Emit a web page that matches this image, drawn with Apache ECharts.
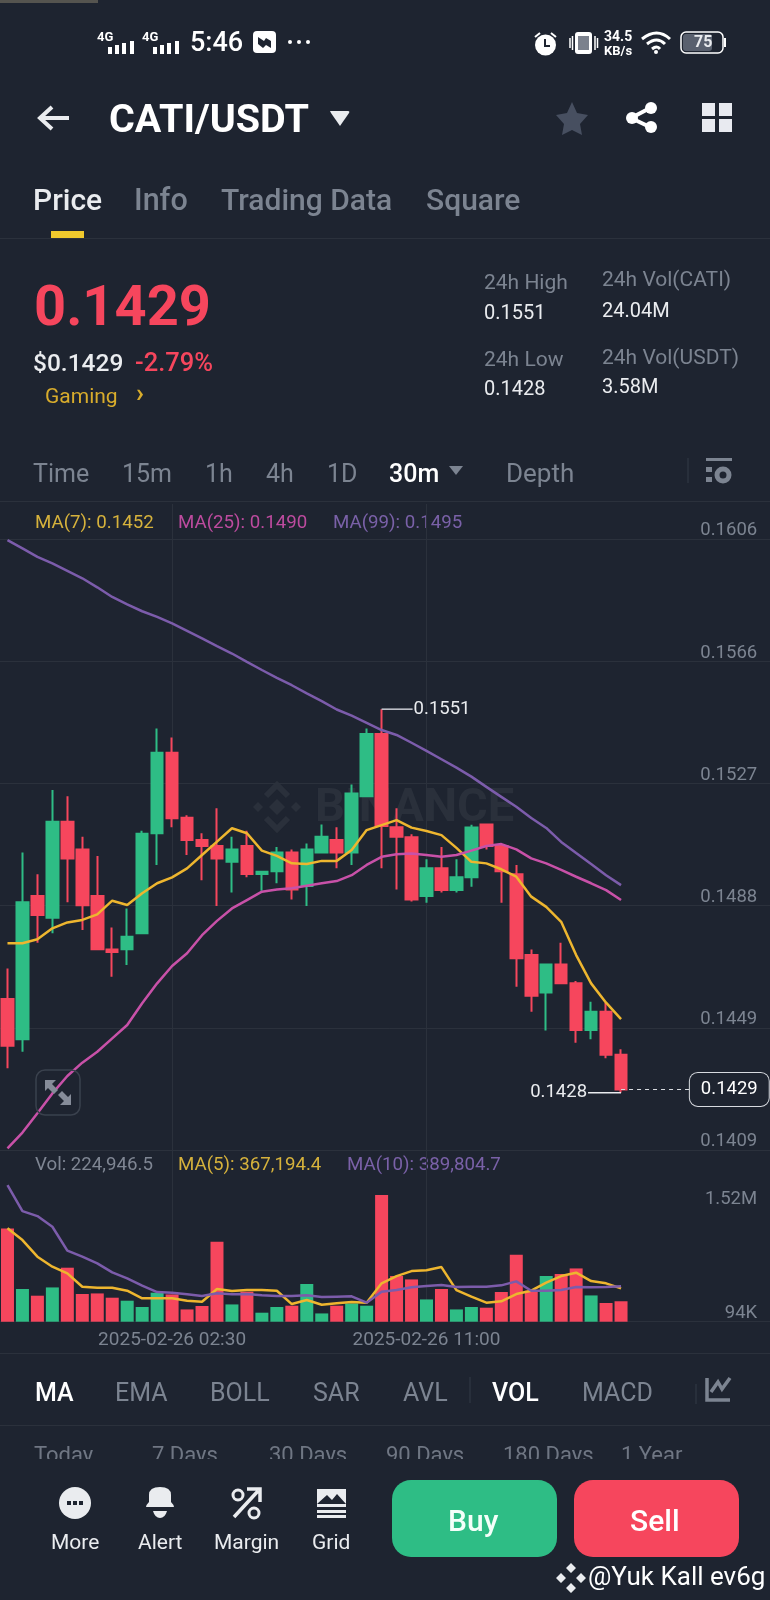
<!DOCTYPE html>
<html>
<head>
<meta charset="utf-8">
<script src="https://cdn.jsdelivr.net/npm/echarts@6/dist/echarts.min.js"></script>
<style>
  html, body { margin: 0; padding: 0; background: #1e2430; }
  #page { position: relative; width: 770px; height: 1600px; overflow: hidden; font-family: Roboto, sans-serif; }
  #chart { position: absolute; left: 0; top: 0; width: 790px; height: 1600px; }
  .t { position: absolute; white-space: nowrap; line-height: 1; transform: translateY(-50%); }
  .line { position: absolute; left: 0; width: 770px; height: 1px; background: #2b313c; }
  .panel { position: absolute; left: 0; top: 1459px; width: 770px; height: 141px; background: #1e2430; }
  .btn { position: absolute; top: 1480px; height: 77px; width: 165px; border-radius: 19px; }
  svg { position: absolute; overflow: visible; }
</style>
</head>
<body>
<div id="page">
  <div id="chart"></div>
  <div style="position:absolute;left:0;top:0;width:98px;height:3px;background:#55544f"></div>
  <div class="line" style="top:238px"></div>
  <div class="line" style="top:501px"></div>
  <div class="line" style="top:1353px"></div>
  <div class="line" style="top:1425px"></div>
  <div style="position:absolute;left:51px;top:231px;width:33px;height:7px;background:#f0c92d"></div>

  <!-- status bar -->
  <svg style="left:0;top:0" width="770" height="60" fill="#fff">
    <g id="signal1"><rect x="108" y="47" width="4" height="7"/><rect x="115" y="45" width="4" height="9"/><rect x="122" y="43" width="4" height="11"/><rect x="130" y="41" width="4" height="13"/></g>
    <g><rect x="153" y="47" width="4" height="7"/><rect x="160" y="45" width="4" height="9"/><rect x="167" y="43" width="4" height="11"/><rect x="175" y="41" width="4" height="13"/></g>
    <rect x="253" y="31" width="23" height="22" rx="4"/>
    <path d="M258 37l6 4 2-3 5 3v7l-5-3-3 3-5-4z" fill="#1e2430"/>
    <circle cx="290" cy="42" r="2"/><circle cx="299" cy="42" r="2"/><circle cx="308" cy="42" r="2"/>
    <circle cx="545.500" cy="45" r="10.500"/><path d="M535 37l5-4M556 37l-5-4" stroke="#fff" stroke-width="2"/>
    <path d="M545 39v7h5" stroke="#1e2430" stroke-width="2" fill="none"/>
    <rect x="575" y="32" width="17" height="22" rx="3"/><rect x="578" y="36" width="11" height="14" fill="#7b818d"/>
    <path d="M570 38v10M572.500 36v14M595 36v14M597.500 38v10" stroke="#fff" stroke-width="1.500"/>
    <path d="M642 39q15-12 28 0M647 44q10-8 18 0M652 49q5-4 8 0" stroke="#fff" stroke-width="3" fill="none"/><circle cx="656" cy="52" r="2"/>
    <rect x="681" y="32" width="42" height="21" rx="5" fill="none" stroke="#fff" stroke-width="1.500"/>
    <rect x="683" y="34" width="29" height="17" rx="3" fill="#59606e"/>
    <rect x="724" y="38" width="2" height="9"/>
  </svg>

  <!-- header icons -->
  <svg style="left:0;top:0" width="770" height="160">
    <path d="M69 118H41M52 107l-12 11 12 11" stroke="#eaecef" stroke-width="4" fill="none"/>
    <path d="M330 111h18q2 0 1 2l-9 13-9-13q-1-2-1-2z" fill="#eaecef"/>
    <path d="M572 102l5 11 11 2-8 9 2 11-10-5-10 5 2-11-8-9 11-2z" fill="#474f60"/>
    <path d="M631 118l21-11M631 118l21 10" stroke="#fff" stroke-width="4"/>
    <circle cx="632" cy="118" r="6" fill="#fff"/><circle cx="651" cy="108" r="6" fill="#fff"/><circle cx="651" cy="127" r="6" fill="#fff"/>
    <g fill="#e8eaf0"><rect x="702" y="103" width="13" height="13"/><rect x="719" y="103" width="13" height="13"/><rect x="702" y="119" width="13" height="13"/><rect x="719" y="119" width="13" height="13"/></g>
  </svg>

  <!-- interval row icons -->
  <svg style="left:0;top:440px" width="770" height="60">
    <path d="M449 26h14l-7 9z" fill="#7c8491"/>
    <path d="M688 18v25" stroke="#333a46" stroke-width="1"/>
    <g fill="#7c8491"><rect x="706" y="18" width="26" height="3"/><rect x="706" y="27" width="6" height="5"/><rect x="706" y="37" width="6" height="5"/></g>
    <circle cx="723" cy="35" r="6" fill="none" stroke="#7c8491" stroke-width="5"/>
  </svg>

  <!-- expand button -->
  <svg style="left:0;top:0" width="770" height="1200">
    <rect x="36" y="1070" width="44" height="45" rx="9" fill="none" stroke="#3a414d" stroke-width="1.500"/>
    <path d="M45 1080h11l-4 4 6 6-4 4-6-6-3 3z M71 1105h-11l4-4-6-6 4-4 6 6 3-3z" fill="#868c99"/>
  </svg>

  <!-- indicator row icons -->
  <svg style="left:0;top:1360px" width="770" height="60">
    <path d="M470 17v26M696 24v20" stroke="#333a46" stroke-width="1"/>
    <path d="M707 18v22h23M711 32l7-10 4 7 8-11" stroke="#7c8491" stroke-width="3.500" fill="none"/>
  </svg>

  <div id="texts"></div>
  <div class="panel"></div>

  <!-- bottom bar -->
  <svg style="left:0;top:1470px;z-index:2" width="770" height="130">
    <circle cx="75" cy="33" r="16" fill="#eaecef"/>
    <g fill="#1e2430"><rect x="67" y="31" width="4" height="4"/><rect x="73" y="31" width="4" height="4"/><rect x="79" y="31" width="4" height="4"/></g>
    <path d="M146 37q0-2 3-5v-7q0-8 11-8t11 8v7q3 3 3 5z" fill="#eaecef"/><path d="M153 41h14q-2 7-7 7t-7-7z" fill="#eaecef"/>
    <path d="M234 47l24-26M247 19h13v13" stroke="#eaecef" stroke-width="3.500" fill="none"/>
    <circle cx="238" cy="25" r="5" fill="none" stroke="#eaecef" stroke-width="3"/><circle cx="254" cy="43" r="5" fill="none" stroke="#eaecef" stroke-width="3"/>
    <path d="M317 19h29v18h-29z" fill="#eaecef"/><path d="M317 34l10-9 5 5 5-6 9 10z" fill="#1e2430"/>
    <rect x="317" y="40" width="29" height="3" fill="#eaecef"/><rect x="317" y="45" width="29" height="3" fill="#eaecef"/>
    <g fill="#eaecef"><path d="M571 93l5 5-5 5-5-5zM571 113l5 5-5 5-5-5zM561 103l5 5-5 5-5-5zM581 103l5 5-5 5-5-5z"/></g>
  </svg>
  <div class="btn" style="left:392px;background:#2ebd85"></div>
  <div class="btn" style="left:574px;background:#f6465d"></div>
  <div id="texts2"></div>
</div>

<script>
// price axis ticks + labels
const priceTicks = [0.14093, 0.14486, 0.14879, 0.15272, 0.15664, 0.16058];
const volumeTicks = [94000, 1520000];
const dateTickIndex = [11, 28];

const categories = [
  '2025-02-25 21:00', '2025-02-25 21:30', '2025-02-25 22:00', '2025-02-25 22:30', '2025-02-25 23:00', '2025-02-25 23:30',
  '2025-02-26 00:00', '2025-02-26 00:30', '2025-02-26 01:00', '2025-02-26 01:30', '2025-02-26 02:00', '2025-02-26 02:30',
  '2025-02-26 03:00', '2025-02-26 03:30', '2025-02-26 04:00', '2025-02-26 04:30', '2025-02-26 05:00', '2025-02-26 05:30',
  '2025-02-26 06:00', '2025-02-26 06:30', '2025-02-26 07:00', '2025-02-26 07:30', '2025-02-26 08:00', '2025-02-26 08:30',
  '2025-02-26 09:00', '2025-02-26 09:30', '2025-02-26 10:00', '2025-02-26 10:30', '2025-02-26 11:00', '2025-02-26 11:30',
  '2025-02-26 12:00', '2025-02-26 12:30', '2025-02-26 13:00', '2025-02-26 13:30', '2025-02-26 14:00', '2025-02-26 14:30',
  '2025-02-26 15:00', '2025-02-26 15:30', '2025-02-26 16:00', '2025-02-26 16:30', '2025-02-26 17:00', '2025-02-26 17:30',
  '', '', '', '', '', '', '', '', '', ''
];

const opens = [0.14579, 0.14449, 0.14910, 0.14840, 0.15149, 0.15060, 0.14910, 0.14738, 0.14739, 0.14790, 0.15112, 0.15371, 0.15162, 0.15090,
  0.15071, 0.15020, 0.15071, 0.14981, 0.14990, 0.15050, 0.14942, 0.15050, 0.15090, 0.15050, 0.15231, 0.15431, 0.15131, 0.15099,
  0.14910, 0.14999, 0.14929, 0.14970, 0.15140, 0.15071, 0.14980, 0.14720, 0.14600, 0.14690, 0.14629, 0.14479, 0.14538, 0.14399];
const closes = [0.14428, 0.14890, 0.14849, 0.15149, 0.15031, 0.14880, 0.14739, 0.14730, 0.14779, 0.15110, 0.15371, 0.15160, 0.15090, 0.15071,
  0.15031, 0.15060, 0.14981, 0.14988, 0.15050, 0.14931, 0.15060, 0.15101, 0.15050, 0.15240, 0.15431, 0.15135, 0.15101, 0.14899,
  0.14999, 0.14929, 0.14970, 0.15130, 0.15071, 0.14990, 0.14710, 0.14589, 0.14690, 0.14629, 0.14479, 0.14538, 0.14399, 0.14288];
const lows = [0.14356, 0.14409, 0.14760, 0.14790, 0.14890, 0.14801, 0.14739, 0.14650, 0.14688, 0.14790, 0.15010, 0.15131, 0.15042, 0.14961,
  0.14878, 0.14921, 0.14970, 0.14927, 0.14951, 0.14899, 0.14878, 0.15050, 0.14999, 0.15010, 0.15231, 0.14999, 0.14931, 0.14892,
  0.14888, 0.14921, 0.14921, 0.14940, 0.15060, 0.14888, 0.14618, 0.14538, 0.14477, 0.14629, 0.14438, 0.14449, 0.14388, 0.14277];
const highs = [0.14677, 0.15050, 0.14980, 0.15251, 0.15231, 0.15101, 0.15039, 0.14809, 0.14870, 0.15120, 0.15449, 0.15420, 0.15170, 0.15112,
  0.15192, 0.15101, 0.15120, 0.14988, 0.15068, 0.15060, 0.15079, 0.15140, 0.15131, 0.15269, 0.15449, 0.15511, 0.15192, 0.15109,
  0.15028, 0.15068, 0.15028, 0.15139, 0.15140, 0.15074, 0.15010, 0.14738, 0.14690, 0.14760, 0.14637, 0.14570, 0.14567, 0.14417];

const ma7 = [0.14758, 0.14758, 0.14771, 0.14806, 0.14825, 0.14833, 0.14851, 0.14895, 0.14881, 0.14919, 0.14951, 0.14970, 0.14999, 0.15042,
  0.15085, 0.15128, 0.15112, 0.15056, 0.15039, 0.15015, 0.15013, 0.15023, 0.15023, 0.15058, 0.15122, 0.15138, 0.15154, 0.15130,
  0.15119, 0.15106, 0.15065, 0.15020, 0.15015, 0.14996, 0.14972, 0.14908, 0.14875, 0.14827, 0.14720, 0.14629, 0.14567, 0.14514];
const ma25 = [0.14098, 0.14149, 0.14211, 0.14275, 0.14331, 0.14374, 0.14409, 0.14452, 0.14495, 0.14565, 0.14629, 0.14685, 0.14726, 0.14784,
  0.14830, 0.14870, 0.14897, 0.14924, 0.14931, 0.14935, 0.14943, 0.14951, 0.14958, 0.14977, 0.15010, 0.15036, 0.15044, 0.15047,
  0.15042, 0.15036, 0.15042, 0.15056, 0.15071, 0.15077, 0.15060, 0.15031, 0.15015, 0.14994, 0.14972, 0.14951, 0.14929, 0.14897];
const ma99 = [0.16055, 0.16028, 0.16001, 0.15980, 0.15956, 0.15932, 0.15903, 0.15872, 0.15848, 0.15826, 0.15808, 0.15787, 0.15763, 0.15739,
  0.15714, 0.15690, 0.15663, 0.15637, 0.15612, 0.15588, 0.15562, 0.15537, 0.15510, 0.15490, 0.15467, 0.15444, 0.15428, 0.15403,
  0.15377, 0.15350, 0.15323, 0.15294, 0.15261, 0.15229, 0.15197, 0.15161, 0.15129, 0.15084, 0.15048, 0.15013, 0.14977, 0.14945];

const volumes = [1026000, 360000, 286000, 377000, 594000, 305000, 311000, 264000, 231000, 162000, 319000, 300000, 135000, 173000,
  880000, 190000, 330000, 99000, 162000, 176000, 415000, 91000, 176000, 201000, 176000, 1394000, 503000, 465000,
  245000, 360000, 135000, 162000, 154000, 327000, 737000, 341000, 503000, 525000, 586000, 289000, 206000, 224946.5];
const volMa5 = [1027000, 898000, 715000, 605000, 532000, 385000, 374000, 374000, 341000, 257000, 257000, 257000, 231000, 220000,
  359000, 337000, 348000, 348000, 341000, 194000, 238000, 187000, 202000, 216000, 209000, 422000, 502000, 557000,
  565000, 601000, 348000, 275000, 209000, 224000, 304000, 341000, 429000, 502000, 539000, 447000, 422000, 367194.4];
const volMa10 = [1503000, 1217000, 1162000, 1045000, 781000, 715000, 642000, 543000, 477000, 396000, 326000, 319000, 301000, 282000,
  312000, 301000, 304000, 290000, 282000, 282000, 290000, 271000, 275000, 279000, 209000, 330000, 348000, 378000,
  392000, 403000, 381000, 385000, 385000, 400000, 444000, 341000, 341000, 348000, 381000, 378000, 381000, 389804.7];

const UP = '#2ebd85', DOWN = '#f6465d', YEL = '#eeb62f', PINK = '#c851a8', PUR = '#7c5cab';
const GREY = '#7c8491', WHITE = '#eaecef', GRID = '#2b313c';

// [text, left x, center y, size, color, weight]
const headerTexts = [
  ['4G', 97, 36, 13, '#fff', 700], ['4G', 142, 36, 13, '#fff', 700],
  ['5:46', 190, 42, 27, '#fff', 500], ['34.5', 604, 36, 14, '#fff', 700], ['KB/s', 604, 50, 13, '#fff', 700],
  ['75', 694, 42, 16, '#eaecef', 700],
  ['CATI/USDT', 109, 119, 39.5, '#fff', 700],
  ['Price', 33, 200, 30, '#eaecef', 500], ['Info', 134, 200, 30.5, GREY, 500],
  ['Trading Data', 221, 200, 30, GREY, 500], ['Square', 426, 200, 30, GREY, 500],
  ['0.1429', 34, 306, 56, DOWN, 700], ['$0.1429', 33, 363, 24.5, WHITE, 500], ['-2.79%', 135, 363, 25.5, DOWN, 500],
  ['Gaming', 45, 396, 21, '#d8ac2c', 400], ['›', 136, 393, 26, '#d8ac2c', 700],
  ['24h High', 484, 282, 21, GREY, 400], ['0.1551', 484, 312, 20, WHITE, 400],
  ['24h Vol(CATI)', 602, 279, 21, GREY, 400], ['24.04M', 602, 310, 20, WHITE, 400],
  ['24h Low', 484, 359, 21, GREY, 400], ['0.1428', 484, 388, 20, WHITE, 400],
  ['24h Vol(USDT)', 602, 357, 21, GREY, 400], ['3.58M', 602, 386, 20, WHITE, 400],
  ['Time', 33, 473, 25, GREY, 400], ['15m', 122, 473, 25, GREY, 400], ['1h', 205, 473, 25, GREY, 400],
  ['4h', 266, 473, 25, GREY, 400], ['1D', 327, 473, 25, GREY, 400], ['30m', 389, 473, 25, '#fff', 500], ['Depth', 506, 473, 26, GREY, 400],
  ['MA', 35, 1392, 25, '#fff', 500], ['EMA', 115, 1392, 25, GREY, 400], ['BOLL', 210, 1392, 25, GREY, 400],
  ['SAR', 313, 1392, 25, GREY, 400], ['AVL', 403, 1392, 25, GREY, 400], ['VOL', 492, 1392, 25, '#fff', 500], ['MACD', 582, 1392, 25, GREY, 400],
  ['Today', 34, 1455, 22, '#6f7683', 400], ['7 Days', 152, 1455, 22, '#6f7683', 400], ['30 Days', 269, 1455, 22, '#6f7683', 400],
  ['90 Days', 386, 1455, 22, '#6f7683', 400], ['180 Days', 503, 1455, 22, '#6f7683', 400], ['1 Year', 621, 1455, 22, '#6f7683', 400]
];
const footerTexts = [
  ['More', 51, 1542, 21, WHITE, 400], ['Alert', 138, 1542, 21, WHITE, 400], ['Margin', 214, 1542, 21, WHITE, 400], ['Grid', 312, 1542, 21, WHITE, 400],
  ['Buy', 448, 1521, 30, '#f4fff9', 500], ['Sell', 630, 1521, 30, '#fff', 500],
  ['@Yuk Kall ev6g', 588, 1576, 26, '#fff', 400]
];

function putTexts(id, list, z) {
  const box = document.getElementById(id);
  list.forEach(function (a) {
    const el = document.createElement('div');
    el.className = 't';
    el.textContent = a[0];
    el.style.cssText = 'left:' + a[1] + 'px;top:' + a[2] + 'px;font-size:' + a[3] + 'px;color:' + a[4] + ';font-weight:' + a[5] + (z ? ';z-index:' + z : '');
    box.appendChild(el);
  });
}
putTexts('texts', headerTexts);
putTexts('texts2', footerTexts, 3);

const chart = echarts.init(document.getElementById('chart'), null, { renderer: 'canvas' });

const dateTicks = function (i) { return dateTickIndex.indexOf(i) >= 0; };
const lastIdx = closes.length - 1;
const highIdx = highs.indexOf(Math.max.apply(null, highs));

function maLine(name, data, color, xi, yi, width) {
  return {
    name: name, type: 'line', data: data, xAxisIndex: xi, yAxisIndex: yi,
    showSymbol: false, symbol: 'none', smooth: false, z: 5, silent: true,
    lineStyle: { color: color, width: width }
  };
}

function legendText(text, x, y, color) {
  return { type: 'text', left: x, top: y, silent: true, style: { text: text, fill: color, font: '400 18.7px Roboto' } };
}

chart.setOption({
  animation: false,
  backgroundColor: 'transparent',
  grid: [
    { left: -1.83, top: 504, width: 780, height: 646 },
    { left: -1.83, top: 1150, width: 780, height: 171.7 }
  ],
  xAxis: [
    {
      type: 'category', data: categories, gridIndex: 0,
      axisLine: { show: false }, axisTick: { show: false }, axisLabel: { show: false },
      splitLine: { show: true, alignWithLabel: true, interval: dateTicks, lineStyle: { color: GRID } }
    },
    {
      type: 'category', data: categories, gridIndex: 1,
      axisLine: { show: true, lineStyle: { color: GRID } }, axisTick: { show: false },
      axisLabel: { interval: dateTicks, color: GREY, fontSize: 19, fontFamily: 'Roboto', margin: 9, hideOverlap: false },
      splitLine: { show: true, alignWithLabel: true, interval: dateTicks, lineStyle: { color: GRID } }
    }
  ],
  yAxis: [
    {
      type: 'value', gridIndex: 0, position: 'right', scale: true,
      min: 0.14093, max: 0.16171,
      axisLine: { show: false }, axisTick: { show: false, customValues: priceTicks },
      axisLabel: {
        inside: true, margin: 21, customValues: priceTicks, color: GREY, fontSize: 18.5, fontFamily: 'Roboto',
        verticalAlign: 'bottom', lineHeight: 17,
        formatter: function (v) { return v.toFixed(4); }
      },
      splitLine: { show: true, lineStyle: { color: GRID } }
    },
    {
      type: 'value', gridIndex: 1, position: 'right',
      min: 0, max: 1889000,
      axisLine: { show: false }, axisTick: { show: false, customValues: volumeTicks },
      splitLine: { show: false },
      axisLabel: {
        inside: true, margin: 21, customValues: volumeTicks, color: GREY, fontSize: 18.5, fontFamily: 'Roboto',
        formatter: function (v) { return v >= 1e6 ? '{big|' + (v / 1e6).toFixed(2) + 'M}' : (v / 1000).toFixed(0) + 'K'; },
        rich: { big: { color: GREY, fontSize: 18.5, fontFamily: 'Roboto', padding: [32, 0, 0, 0] } }
      }
    }
  ],
  graphic: [
    // watermark
    { type: 'text', left: 315, top: 786, z: 0, silent: true, style: { text: 'BINANCE', fill: '#2a303b', font: '700 47px Roboto' } },
    {
      type: 'group', left: 253, top: 782, z: 0, silent: true,
      children: [
        { type: 'polygon', shape: { points: [[25, 17], [33, 25], [25, 33], [17, 25]] }, style: { fill: '#2a303b' } },
        { type: 'polygon', shape: { points: [[6, 20], [11, 25], [6, 30], [1, 25]] }, style: { fill: '#2a303b' } },
        { type: 'polygon', shape: { points: [[44, 20], [49, 25], [44, 30], [39, 25]] }, style: { fill: '#2a303b' } },
        { type: 'polyline', shape: { points: [[14, 14], [25, 3], [36, 14]] }, style: { stroke: '#2a303b', lineWidth: 6, fill: 'none' } },
        { type: 'polyline', shape: { points: [[14, 36], [25, 47], [36, 36]] }, style: { stroke: '#2a303b', lineWidth: 6, fill: 'none' } }
      ]
    },
    legendText('MA(7): 0.1452', 35, 514, '#d6b23c'),
    legendText('MA(25): 0.1490', 178, 514, '#bd4b9f'),
    legendText('MA(99): 0.1495', 333, 514, '#7a61a8'),
    legendText('Vol: 224,946.5', 35, 1156, '#7f8693'),
    legendText('MA(5): 367,194.4', 178, 1156, '#d6b23c'),
    legendText('MA(10): 389,804.7', 347, 1156, '#7a61a8')
  ],
  series: [
    {
      name: 'CATI/USDT', type: 'candlestick', xAxisIndex: 0, yAxisIndex: 0, barWidth: 12, z: 3, silent: true,
      data: opens.map(function (o, i) { return [o, closes[i], lows[i], highs[i]]; }),
      itemStyle: { color: UP, color0: DOWN, borderColor: UP, borderColor0: DOWN, borderWidth: 2 },
      markPoint: {
        silent: true,
        data: [
          {
            coord: [highIdx, highs[highIdx]], symbol: 'rect', symbolSize: [31, 1.5], symbolOffset: [15.5, 0],
            itemStyle: { color: '#c9ccd3' },
            label: { show: true, position: 'right', distance: 1, formatter: highs[highIdx].toFixed(4), color: '#eaecef', fontSize: 18.5, fontFamily: 'Roboto' }
          },
          {
            coord: [lastIdx, lows[lastIdx]], symbol: 'rect', symbolSize: [33, 1.5], symbolOffset: [-16.5, 0],
            itemStyle: { color: '#eaecef' },
            label: { show: true, position: 'left', distance: 1, formatter: lows[lastIdx].toFixed(4), color: '#eaecef', fontSize: 18.5, fontFamily: 'Roboto' }
          }
        ]
      },
      markLine: {
        silent: true, symbol: 'none',
        lineStyle: { color: '#d8dbe0', type: [4, 4], width: 1 },
        label: {
          show: true, position: 'end', distance: 0, offset: [-6, 0], formatter: closes[lastIdx].toFixed(4), color: '#fff', fontSize: 18.5, fontFamily: 'Roboto',
          backgroundColor: '#1e2430', borderColor: '#d8dbe0', borderWidth: 1, borderRadius: 8, padding: [7, 11]
        },
        data: [[{ coord: [lastIdx, closes[lastIdx]] }, { coord: [46, closes[lastIdx]] }]]
      }
    },
    maLine('MA(7)', ma7, YEL, 0, 0, 2.5),
    maLine('MA(25)', ma25, PINK, 0, 0, 2.5),
    maLine('MA(99)', ma99, PUR, 0, 0, 2.5),
    {
      name: 'Vol', type: 'bar', xAxisIndex: 1, yAxisIndex: 1, barWidth: 13, z: 3, silent: true,
      data: volumes,
      itemStyle: { color: function (p) { return closes[p.dataIndex] >= opens[p.dataIndex] ? UP : DOWN; } }
    },
    maLine('MA(5)', volMa5, YEL, 1, 1, 2.5),
    maLine('MA(10)', volMa10, PUR, 1, 1, 2.5)
  ]
});

window.addEventListener('resize', function () { chart.resize(); });
</script>
</body>
</html>
